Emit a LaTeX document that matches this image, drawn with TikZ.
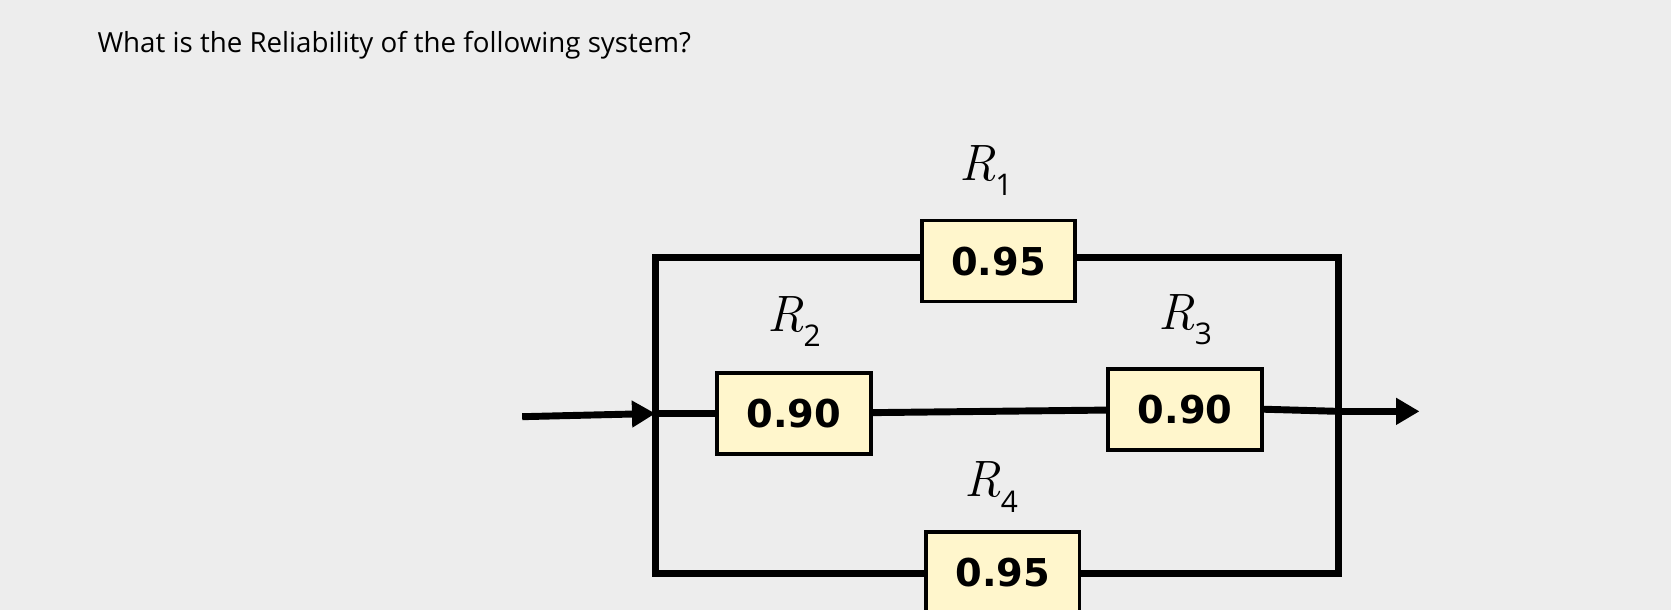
\documentclass[tikz,border=0pt]{standalone}
\usepackage{fontspec}
\setsansfont{Open Sans}
\newfontfamily\numfont{DejaVu Sans}
\usetikzlibrary{arrows.meta}
\definecolor{boxfill}{HTML}{FFF6CC}
\newcommand{\rl}[1]{\textit{R}\raisebox{-0.3em}{\sffamily\fontsize{28}{30}\selectfont #1}}
\begin{document}
\begin{tikzpicture}[x=1pt,y=-1pt,
  wire/.style={line width=6.5pt},
  rbox/.style={draw,line width=3.5pt,fill=boxfill,minimum width=144pt,minimum height=76pt,font=\numfont\bfseries\fontsize{36}{40}\selectfont,inner sep=0pt},
  rlab/.style={font=\fontsize{48}{52}\selectfont}]
\fill[gray!14] (0,0) rectangle (1568,572);
\useasboundingbox (0,0) rectangle (1568,572);
\node[anchor=west,font=\sffamily\fontsize{26}{30}\selectfont] (title) at (88,42) {What is the Reliability of the following system?};
\coordinate (tl) at (615,242); \coordinate (tr) at (1256,242);
\coordinate (bl) at (615,538); \coordinate (br) at (1256,538);
\coordinate (ml) at (615,388); \coordinate (mr) at (1256,386);
\draw[wire] (tl) -- (tr) -- (br) -- (bl) -- cycle;
\node[rbox] (r1) at (937,245) {0.95};
\node[rbox] (r2) at (745,388) {0.90};
\node[rbox] (r3) at (1112,384) {0.90};
\node[rbox] (r4) at (941,537) {0.95};
\draw[wire] (r2) -- (r3);
\draw[wire] (ml) -- (r2.west);
\draw[wire] (r3.east) -- (mr);
\coordinate (in) at (490,391);
\coordinate (out) at (1332,386);
\draw[wire,-{Triangle[length=22pt,width=24pt]}] (in) -- (ml);
\draw[wire,-{Triangle[length=22pt,width=24pt]}] (mr) -- (out);
\node[rlab] (l1) at (925,160) {\rl{1}};
\node[rlab] (l2) at (745,302) {\rl{2}};
\node[rlab] (l3) at (1112,300) {\rl{3}};
\node[rlab] (l4) at (930,457) {\rl{4}};
\end{tikzpicture}
\end{document}
